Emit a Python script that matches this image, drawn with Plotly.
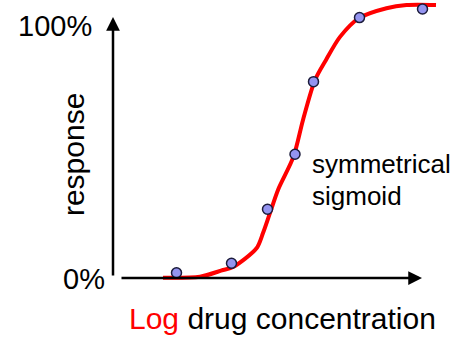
import plotly.graph_objects as go

# ---- data (log concentration units, response in %) ----
dose_log = [1.27, 2.37, 3.09, 3.64, 4.01, 4.93, 6.19]
response_pct = [1.6, 5.1, 25.3, 45.8, 72.9, 96.8, 100.0]

fit_x = [1.00, 1.74, 2.20, 2.40, 2.87, 3.00, 3.14, 3.30, 3.61, 3.80, 4.04,
         4.26, 4.54, 4.92, 5.47, 5.87, 6.46]
fit_y = [-0.3, 0.1, 2.6, 3.7, 10.7, 16.4, 23.9, 32.5, 44.9, 58.6, 73.5,
         81.0, 89.6, 96.6, 100.3, 101.5, 101.5]

tick_labels = ["0%", "100%"]
x_title_red = "Log"
x_title_rest = " drug concentration"
y_title = "response"
curve_label = ["symmetrical", "sigmoid"]

FONT = "Liberation Sans, Arial, Helvetica, sans-serif"

fig = go.Figure()
fig.add_trace(go.Scatter(x=fit_x, y=fit_y, mode="lines", cliponaxis=False,
                         line=dict(color="#ff0000", width=4, shape="spline", smoothing=0.8),
                         hoverinfo="skip", showlegend=False))
fig.add_trace(go.Scatter(x=dose_log, y=response_pct, mode="markers", cliponaxis=False,
                         marker=dict(size=10, color="#9494f0",
                                     line=dict(color="#1c1c3c", width=1.5)),
                         hoverinfo="skip", showlegend=False))

ann = []
# y axis arrow
ann.append(dict(x=0, y=97.0, ax=0, ay=0, xref="x", yref="y", axref="x", ayref="y",
                text="", showarrow=True, arrowhead=2, arrowsize=1.1, arrowwidth=2.5,
                arrowcolor="black"))
# x axis arrow
ann.append(dict(x=6.18, y=-0.37, ax=0.14, ay=-0.37, xref="x", yref="y", axref="x", ayref="y",
                text="", showarrow=True, arrowhead=2, arrowsize=1.1, arrowwidth=2.5,
                arrowcolor="black"))
# tick labels
ann.append(dict(x=-0.12, y=-0.6, xref="x", yref="y", text=tick_labels[0], showarrow=False,
                xanchor="right", yanchor="middle", font=dict(family=FONT, size=29, color="black")))
ann.append(dict(x=-0.38, y=93.6, xref="x", yref="y", text=tick_labels[1], showarrow=False,
                xanchor="right", yanchor="middle", font=dict(family=FONT, size=29, color="black")))
# y title
ann.append(dict(x=-0.80, y=45.5, xref="x", yref="y", text=y_title, showarrow=False,
                textangle=-90, xanchor="center", yanchor="middle",
                font=dict(family=FONT, size=30, color="black")))
# x title
ann.append(dict(x=3.38, y=-15.5, xref="x", yref="y",
                text="<span style='color:#ff0000'>" + x_title_red + "</span>" + x_title_rest,
                showarrow=False, xanchor="center", yanchor="middle",
                font=dict(family=FONT, size=30, color="black")))
# curve label
ann.append(dict(x=3.94, y=42.0, xref="x", yref="y", text=curve_label[0], showarrow=False,
                xanchor="left", yanchor="middle", font=dict(family=FONT, size=26, color="black")))
ann.append(dict(x=3.94, y=30.4, xref="x", yref="y", text=curve_label[1], showarrow=False,
                xanchor="left", yanchor="middle", font=dict(family=FONT, size=26, color="black")))

fig.update_layout(
    width=474, height=355,
    margin=dict(l=0, r=0, t=0, b=0),
    paper_bgcolor="white", plot_bgcolor="white",
    xaxis=dict(range=[-2.26, 7.22], visible=False, fixedrange=True),
    yaxis=dict(range=[-29.1, 103.36], visible=False, fixedrange=True),
    annotations=ann,
    showlegend=False,
    hovermode=False,
)

fig.write_html("out.html", config={"displayModeBar": False},
               post_script="document.body.style.margin='0px';document.body.style.padding='0px';")
